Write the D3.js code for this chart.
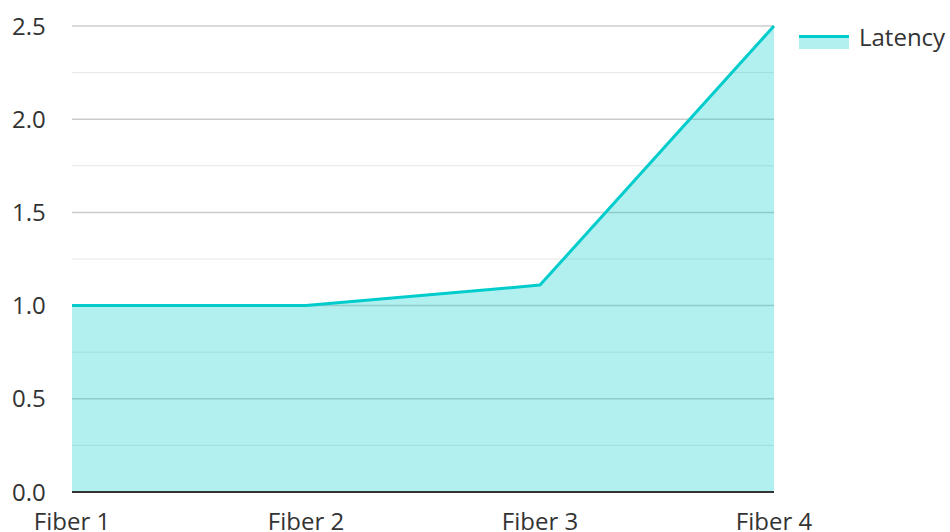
<!DOCTYPE html>
<html>
<head>
<meta charset="utf-8">
<script src="https://cdn.jsdelivr.net/npm/d3@7"></script>
<style>
  html, body { margin: 0; padding: 0; background: #fff; }
  svg { display: block; font-family: "Open Sans", sans-serif; }
</style>
</head>
<body>
<svg id="chart" width="950" height="532"></svg>
<script>
const categories = ['Fiber 1', 'Fiber 2', 'Fiber 3', 'Fiber 4'];
const latency = [1.0, 1.0, 1.11, 2.5];
const majorTicks = [0, 0.5, 1.0, 1.5, 2.0, 2.5];
const minorTicks = [0.25, 0.75, 1.25, 1.75, 2.25];
const seriesName = 'Latency';

const color = '#00cccc';
const svg = d3.select('#chart');
const plotLeft = 72, plotRight = 774, plotTop = 26, plotBottom = 492;

const x = d3.scalePoint().domain(categories).range([plotLeft, plotRight]);
const y = d3.scaleLinear().domain([0, 2.5]).range([plotBottom, plotTop]);

// grid
const grid = svg.append('g');
grid.selectAll('.minor').data(minorTicks).enter().append('line')
  .attr('x1', plotLeft).attr('x2', plotRight)
  .attr('y1', d => y(d)).attr('y2', d => y(d))
  .attr('stroke', '#e6e6e6').attr('stroke-width', 1);
grid.selectAll('.major').data(majorTicks.slice(1)).enter().append('line')
  .attr('x1', plotLeft).attr('x2', plotRight)
  .attr('y1', d => y(d)).attr('y2', d => y(d))
  .attr('stroke', '#cccccc').attr('stroke-width', 1.5);

// y labels
svg.append('g').selectAll('text').data(majorTicks).enter().append('text')
  .attr('x', 12).attr('y', d => y(d)).attr('dy', '0.36em')
  .attr('font-size', 24).attr('fill', '#333')
  .text(d => d3.format('.1f')(d));

const pts = categories.map((c, i) => [c, latency[i]]);

// area
svg.append('path')
  .datum(pts)
  .attr('fill', color).attr('fill-opacity', 0.3)
  .attr('d', d3.area().x(d => x(d[0])).y0(y(0)).y1(d => y(d[1])));

// line
svg.append('path')
  .datum(pts)
  .attr('fill', 'none').attr('stroke', color).attr('stroke-width', 3)
  .attr('stroke-linejoin', 'round')
  .attr('d', d3.line().x(d => x(d[0])).y(d => y(d[1])));

// x axis line
svg.append('line')
  .attr('x1', plotLeft).attr('x2', plotRight)
  .attr('y1', y(0)).attr('y2', y(0))
  .attr('stroke', '#333').attr('stroke-width', 2);

// x labels
svg.append('g').selectAll('text').data(categories).enter().append('text')
  .attr('x', d => x(d)).attr('y', 530)
  .attr('text-anchor', 'middle')
  .attr('font-size', 24).attr('fill', '#333')
  .text(d => d);

// legend
const lg = svg.append('g').attr('transform', 'translate(799,36)');
lg.append('rect').attr('x', 0).attr('y', 1.5).attr('width', 50).attr('height', 11.5)
  .attr('fill', color).attr('fill-opacity', 0.3);
lg.append('line').attr('x1', 0).attr('x2', 50).attr('y1', 0.5).attr('y2', 0.5)
  .attr('stroke', color).attr('stroke-width', 3);
lg.append('text').attr('x', 60).attr('y', 10)
  .attr('font-size', 24).attr('fill', '#333').text(seriesName);
</script>
</body>
</html>
